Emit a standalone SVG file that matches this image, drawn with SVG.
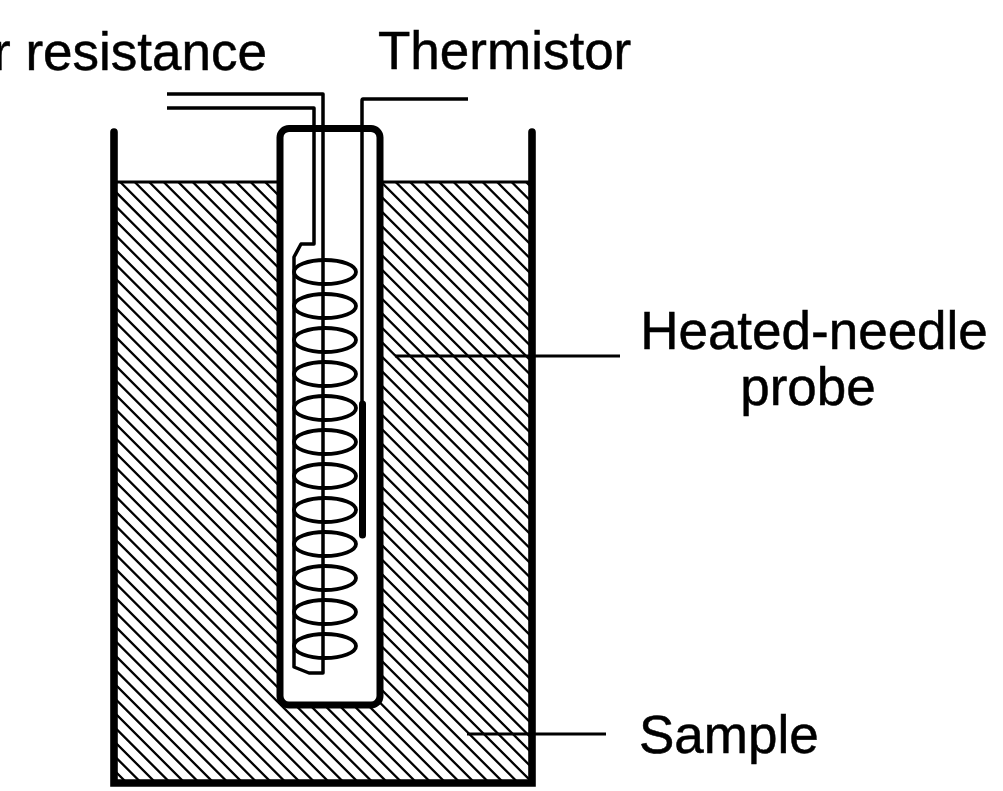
<svg xmlns="http://www.w3.org/2000/svg" width="1003" height="791" viewBox="0 0 1003 791">
<style>
text{font-family:"Liberation Sans",Arial,sans-serif;font-size:53px;fill:#000;stroke:#000;stroke-width:.5}
.w{fill:none;stroke:#000;stroke-width:3.5;stroke-linejoin:round}
.e{fill:none;stroke:#000;stroke-width:3.8}
.l{fill:none;stroke:#000;stroke-width:2.8}
</style>
<defs>
<clipPath id="c"><rect x="114" y="182" width="418" height="601"/></clipPath>
</defs>
<rect width="1003" height="791" fill="#fff"/>
<g id="sample">
<g clip-path="url(#c)"><path d="M66.400 738.600L578.500 226.500" fill="none" stroke="#000" stroke-width="760" stroke-dasharray="2.300 7.950"/></g>
<path class="l" d="M114 182H533"/>
</g>
<g id="container"><path d="M114 132V783H532V132" fill="none" stroke="#000" stroke-width="7.6" stroke-linecap="round"/></g>
<g id="probe"><rect x="280" y="128.500" width="100" height="576.500" rx="9" fill="#fff" stroke="#000" stroke-width="7"/></g>
<g id="coil">
<ellipse class="e" cx="325" cy="272" rx="31" ry="12"/>
<ellipse class="e" cx="325" cy="306" rx="31" ry="12"/>
<ellipse class="e" cx="325" cy="340" rx="31" ry="12"/>
<ellipse class="e" cx="325" cy="374" rx="31" ry="12"/>
<ellipse class="e" cx="325" cy="408" rx="31" ry="12"/>
<ellipse class="e" cx="325" cy="442" rx="31" ry="12"/>
<ellipse class="e" cx="325" cy="476" rx="31" ry="12"/>
<ellipse class="e" cx="325" cy="510" rx="31" ry="12"/>
<ellipse class="e" cx="325" cy="544" rx="31" ry="12"/>
<ellipse class="e" cx="325" cy="578" rx="31" ry="12"/>
<ellipse class="e" cx="325" cy="612" rx="31" ry="12"/>
<ellipse class="e" cx="325" cy="646" rx="31" ry="12"/>
</g>
<g id="thermistor-element"><path d="M362.500 404V535" stroke="#000" stroke-width="7" stroke-linecap="round" fill="none"/></g>
<g id="connectors">
<path class="w" d="M167 94H323V673H309L294 667V257L301 244H314V108H167"/>
<path class="w" d="M468 99H363Q362 99 362 101V404"/>
<path class="l" d="M395 356H620"/>
<path class="l" d="M467 734H606"/>
</g>
<g id="label-resistance"><text x="267" y="70" text-anchor="end">r resistance</text></g>
<g id="label-thermistor"><text x="378" y="69">Thermistor</text></g>
<g id="label-needle"><text x="814" y="349" text-anchor="middle">Heated-needle</text><text x="808" y="405" text-anchor="middle">probe</text></g>
<g id="label-sample"><text x="639" y="753">Sample</text></g>
</svg>
